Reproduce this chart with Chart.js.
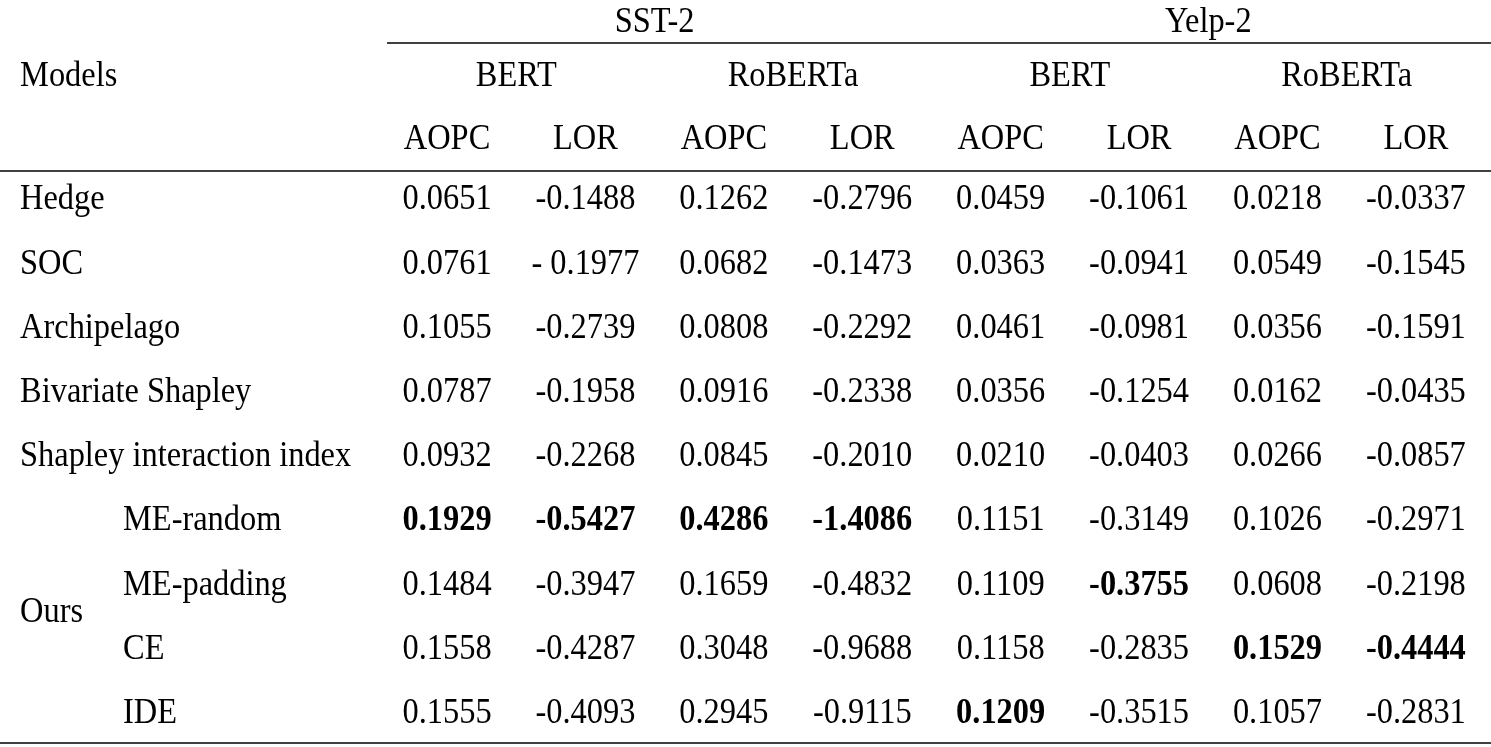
<!DOCTYPE html>
<html><head><meta charset="utf-8">
<script src="https://cdn.jsdelivr.net/npm/chart.js@4"></script>
<style>html,body{margin:0;padding:0;background:#fff}#w{width:1491px;height:747px}</style>
</head><body><div id="w"><canvas id="c"></canvas></div>
<script>
const datasetsTop = ["SST-2","Yelp-2"];
const modelsTop = ["BERT","RoBERTa","BERT","RoBERTa"];
const metrics = ["AOPC","LOR","AOPC","LOR","AOPC","LOR","AOPC","LOR"];
const rowLabels = ["Hedge","SOC","Archipelago","Bivariate Shapley","Shapley interaction index","ME-random","ME-padding","CE","IDE"];
const oursRows = [5,6,7,8];
const hedge = ["0.0651","-0.1488","0.1262","-0.2796","0.0459","-0.1061","0.0218","-0.0337"];
const soc = ["0.0761","- 0.1977","0.0682","-0.1473","0.0363","-0.0941","0.0549","-0.1545"];
const archipelago = ["0.1055","-0.2739","0.0808","-0.2292","0.0461","-0.0981","0.0356","-0.1591"];
const bivariate = ["0.0787","-0.1958","0.0916","-0.2338","0.0356","-0.1254","0.0162","-0.0435"];
const shapleyIdx = ["0.0932","-0.2268","0.0845","-0.2010","0.0210","-0.0403","0.0266","-0.0857"];
const meRandom = ["0.1929","-0.5427","0.4286","-1.4086","0.1151","-0.3149","0.1026","-0.2971"];
const mePadding = ["0.1484","-0.3947","0.1659","-0.4832","0.1109","-0.3755","0.0608","-0.2198"];
const ce = ["0.1558","-0.4287","0.3048","-0.9688","0.1158","-0.2835","0.1529","-0.4444"];
const ide = ["0.1555","-0.4093","0.2945","-0.9115","0.1209","-0.3515","0.1057","-0.2831"];
const rows = [hedge,soc,archipelago,bivariate,shapleyIdx,meRandom,mePadding,ce,ide];
const boldCells = [[5,0],[5,1],[5,2],[5,3],[6,5],[7,6],[7,7],[8,4]];

const pts = [];
rows.forEach((r,ri)=>r.forEach((v,ci)=>pts.push({x:ci,y:ri,t:v,b:boldCells.some(b=>b[0]===ri&&b[1]===ci)})));

const FONT = '"Liberation Serif","Times New Roman",serif';
const SX = 0.9;
const tablePlugin = {
  id:'tbl',
  afterDatasetsDraw(chart){
    const ctx=chart.ctx, xs=chart.scales.x, ys=chart.scales.y;
    const X=v=>xs.getPixelForValue(v), Y=v=>ys.getPixelForValue(v);
    ctx.save(); ctx.fillStyle='#000'; ctx.textBaseline='middle';
    const txt=(s,x,y,align,bold)=>{
      ctx.save(); ctx.translate(x,y); ctx.scale(SX,1);
      ctx.font=(bold?'bold ':'')+'36px '+FONT; ctx.textAlign=align; ctx.fillText(s,0,0);
      ctx.restore();
    };
    datasetsTop.forEach((d,i)=>txt(d,X(1.5+i*4),Y(-2.77),'center'));
    modelsTop.forEach((m,i)=>txt(m,X(0.5+i*2),Y(-1.916),'center'));
    metrics.forEach((m,i)=>txt(m,X(i),Y(-0.935),'center'));
    txt("Models",X(-3.085),Y(-1.916),'left');
    rowLabels.forEach((l,i)=>txt(l,X(oursRows.includes(i)?-2.341:-3.085),Y(i),'left'));
    txt("Ours",X(-3.085),Y(6.43),'left');
    pts.forEach(p=>txt(p.t,X(p.x),Y(p.y),'center',p.b));
    ctx.strokeStyle='#000'; ctx.lineWidth=1.5;
    const line=(x1,x2,y)=>{ctx.beginPath();ctx.moveTo(x1,Math.round(y));ctx.lineTo(x2,Math.round(y));ctx.stroke();};
    line(X(-0.434),chart.chartArea.right,Y(-2.445));
    line(0,chart.chartArea.right,Y(-0.452));
    line(0,chart.chartArea.right,Y(8.458));
    ctx.restore();
  }
};
new Chart(document.getElementById('c'),{
  type:'scatter',
  data:{datasets:[{data:pts,pointRadius:0,pointHoverRadius:0}]},
  options:{responsive:true,maintainAspectRatio:false,animation:false,
    layout:{padding:0},
    plugins:{legend:{display:false},tooltip:{enabled:false}},
    scales:{
      x:{type:'linear',min:-3.23,max:7.543,display:false},
      y:{type:'linear',reverse:true,min:-3.115,max:8.52,display:false}
    }},
  plugins:[tablePlugin]
});
</script></body></html>
